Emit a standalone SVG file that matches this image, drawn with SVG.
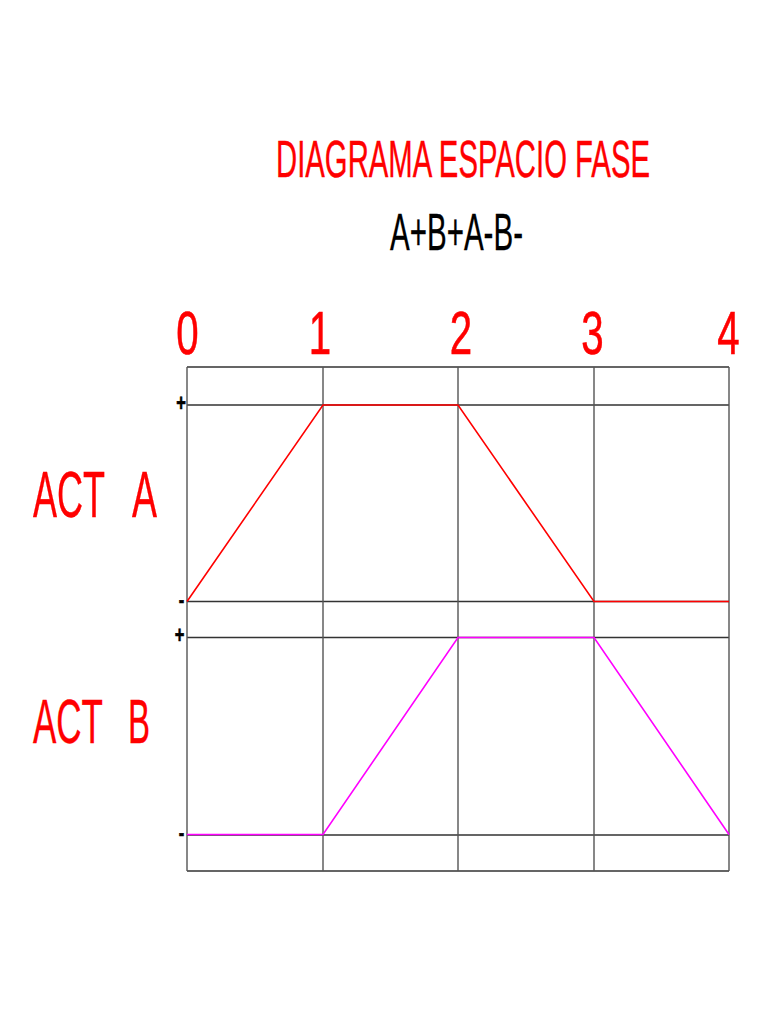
<svg xmlns="http://www.w3.org/2000/svg" width="768" height="1024" viewBox="0 0 768 1024">
<style>
.red{fill:#ff0000;stroke:#ff0000;stroke-width:0.4;font-family:"Liberation Sans",Arial,sans-serif}
.blk{fill:#000;stroke:#000;stroke-width:0.3;font-family:"Liberation Sans",Arial,sans-serif}
.grid{stroke:#333;stroke-width:1.4;fill:none}
.vgrid{stroke:#555;stroke-width:1.4;fill:none}
.sign{fill:#000;stroke:#000;stroke-width:0.6;font-family:"Liberation Sans",Arial,sans-serif;font-weight:bold;font-size:22px;text-anchor:middle}
.dig{fill:#ff0000;stroke:#ff0000;stroke-width:0.6;font-family:"Liberation Sans",Arial,sans-serif;font-size:61px;text-anchor:middle}
</style>
<rect width="768" height="1024" fill="#fff"/>
<g id="title">
<text class="red" x="276" y="177" font-size="51" textLength="374" lengthAdjust="spacingAndGlyphs">DIAGRAMA ESPACIO FASE</text>
<text class="blk" x="390" y="250" font-size="51" textLength="133" lengthAdjust="spacingAndGlyphs">A+B+A-B-</text>
</g>
<g id="axis-numbers">
<text class="dig" transform="translate(187.5,354) scale(0.66,1)">0</text>
<text class="dig" transform="translate(320,354) scale(0.66,1)">1</text>
<text class="dig" transform="translate(461,354) scale(0.66,1)">2</text>
<text class="dig" transform="translate(592.5,354) scale(0.66,1)">3</text>
<text class="dig" transform="translate(728.5,354) scale(0.66,1)">4</text>
</g>
<g id="labels">
<text class="red" x="33" y="517" font-size="65" textLength="72" lengthAdjust="spacingAndGlyphs">ACT</text>
<text class="red" x="132" y="517" font-size="65" textLength="25" lengthAdjust="spacingAndGlyphs">A</text>
<text class="red" x="33" y="743" font-size="63" textLength="70" lengthAdjust="spacingAndGlyphs">ACT</text>
<text class="red" x="128" y="743" font-size="63" textLength="22" lengthAdjust="spacingAndGlyphs">B</text>
</g>
<g id="signs">
<text class="sign" transform="translate(181,411) scale(0.75,1.1)">+</text>
<text class="sign" transform="translate(181.5,607) scale(0.75,1)">-</text>
<text class="sign" transform="translate(179.5,643) scale(0.75,1.1)">+</text>
<text class="sign" transform="translate(181.5,840) scale(0.75,1)">-</text>
</g>
<g id="grid">
<path class="grid" d="M187,367H729M187,405H729M187,601.5H729M187,637.5H729M187,835H729M187,871H729"/>
<path class="vgrid" d="M187,367V871M323,367V871M458,367V871M594,367V871M729,367V871"/>
</g>
<g id="connectors">
<path d="M187,601.5L323,405H458L594,601.5H729" fill="none" stroke="#ff0000" stroke-width="1.6"/>
<path d="M187,834.5H323L458,637.5H594L729,834.5" fill="none" stroke="#ff00ff" stroke-width="1.6"/>
</g>
</svg>
